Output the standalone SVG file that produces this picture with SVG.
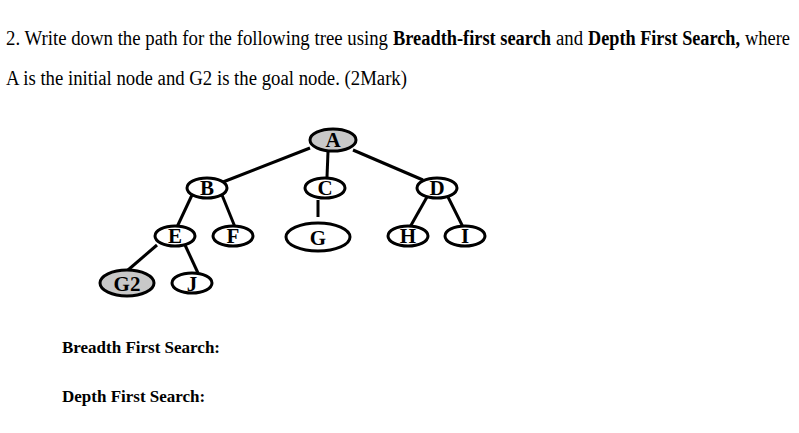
<svg xmlns="http://www.w3.org/2000/svg" width="799" height="433" viewBox="0 0 799 433">
<style>
text{font-family:"Liberation Serif",serif;fill:#000}
.t{font-size:20px}
.b{font-weight:bold}
.n ellipse{fill:#fff;stroke:#000;stroke-width:3}
.n text{font-size:21px;font-weight:bold;text-anchor:middle;dominant-baseline:central}
.g ellipse{fill:#c8c8c8}
#edges line{stroke:#000;stroke-width:3}
.h{font-size:17px;font-weight:bold}
</style>
<rect width="799" height="433" fill="#fff"/>
<text class="t" x="6" y="45" textLength="382" lengthAdjust="spacingAndGlyphs">2.  Write down the path for the following tree using</text>
<text class="t b" x="393" y="45" textLength="158" lengthAdjust="spacingAndGlyphs">Breadth-first search</text>
<text class="t" x="556" y="45" textLength="27" lengthAdjust="spacingAndGlyphs">and</text>
<text class="t b" x="588" y="45" textLength="152" lengthAdjust="spacingAndGlyphs">Depth First Search,</text>
<text class="t" x="745" y="45" textLength="45" lengthAdjust="spacingAndGlyphs">where</text>
<text class="t" x="6" y="85" textLength="401" lengthAdjust="spacingAndGlyphs">A is the initial node and G2 is the goal node.  (2Mark)</text>
<g id="edges">
<line x1="310" y1="148" x2="223" y2="182"/>
<line x1="328" y1="152" x2="327" y2="177"/>
<line x1="318" y1="200" x2="318" y2="217"/>
<line x1="353" y1="150" x2="423" y2="180"/>
<line x1="192" y1="195" x2="177" y2="227"/>
<line x1="222" y1="195" x2="235" y2="227"/>
<line x1="427" y1="197" x2="410" y2="227"/>
<line x1="448" y1="197" x2="463" y2="227"/>
<line x1="157" y1="245" x2="128" y2="270"/>
<line x1="185" y1="245" x2="198" y2="273"/>
</g>
<g id="A" class="n g"><ellipse cx="333" cy="140" rx="23" ry="11"/><text x="333" y="140">A</text></g>
<g id="B" class="n"><ellipse cx="207" cy="188" rx="20" ry="10"/><text x="207" y="188">B</text></g>
<g id="C" class="n"><ellipse cx="325" cy="188" rx="20" ry="10"/><text x="325" y="188">C</text></g>
<g id="D" class="n"><ellipse cx="437" cy="188" rx="20" ry="10"/><text x="437" y="188">D</text></g>
<g id="E" class="n"><ellipse cx="175" cy="236" rx="20" ry="10"/><text x="175" y="236">E</text></g>
<g id="F" class="n"><ellipse cx="233" cy="236" rx="20" ry="10"/><text x="233" y="236">F</text></g>
<g id="G" class="n"><ellipse cx="318" cy="237" rx="32" ry="14" stroke-width="4"/><text x="318" y="238" font-size="23">G</text></g>
<g id="H" class="n"><ellipse cx="408" cy="236" rx="20" ry="10"/><text x="408" y="236">H</text></g>
<g id="I" class="n"><ellipse cx="465" cy="236" rx="20" ry="10"/><text x="465" y="236">I</text></g>
<g id="G2" class="n g"><ellipse cx="127" cy="283" rx="27" ry="13"/><text x="127" y="284" font-size="23">G2</text></g>
<g id="J" class="n"><ellipse cx="192" cy="283" rx="20" ry="10"/><text x="192" y="284">J</text></g>
<text class="h" x="62" y="353">Breadth First Search:</text>
<text class="h" x="62" y="402">Depth First Search:</text>
</svg>
